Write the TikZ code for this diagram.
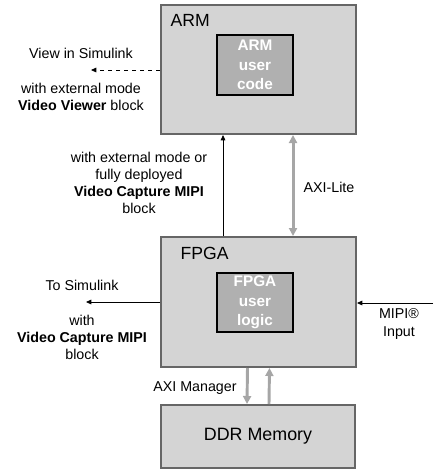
\documentclass[tikz,border=0pt]{standalone}
\usepackage{fontspec}
\setmainfont{Liberation Sans}
\usetikzlibrary{calc, positioning, arrows.meta}

\definecolor{boxfill}{HTML}{D4D4D4}
\definecolor{boxline}{HTML}{666666}
\definecolor{corefill}{HTML}{B0B0B0}
\definecolor{busgray}{HTML}{A6A6A6}

\tikzset{
  chip/.style={draw=boxline, line width=1.5pt, fill=boxfill, inner sep=0pt},
  core/.style={draw=black, line width=0.8pt, fill=corefill, inner sep=0pt,
    minimum width=57pt, minimum height=45pt, align=center,
    text=white, font=\fontsize{11.5}{14.6}\selectfont\bfseries},
  title/.style={font=\fontsize{13.2}{15}\selectfont, anchor=west},
  note/.style={align=center, font=\fontsize{10.7}{12.8}\selectfont},
  sig/.style={line width=0.6pt, -{Triangle[length=4pt, width=3.5pt]}},
  bus/.style={busgray, line width=2.2pt, -{Triangle[length=6pt, width=6pt]}},
}

\begin{document}
\begin{tikzpicture}[x=0.75pt, y=-0.75pt]
  \useasboundingbox (0,0) rectangle (443,469);

  % Blocks
  \node[chip, minimum width=146.25pt, minimum height=96.75pt] (arm) at (258.5,69.5) {};
  \node[chip, minimum width=146.25pt, minimum height=97.5pt] (fpga) at (258.5,302) {};
  \node[chip, minimum width=145.5pt, minimum height=47.25pt,
        font=\fontsize{13.4}{15}\selectfont] (ddr) at (258,436.5) {DDR Memory};

  \node[title] (armtitle) at (166,20) {ARM};
  \node[title] (fpgatitle) at (176,253) {FPGA};

  \node[core] (armcode) at (255,65) {ARM\\user\\code};
  \node[core, minimum height=44.25pt] (fpgalogic) at (255,302.5) {FPGA\\user\\logic};

  % Free ends
  \coordinate (viewend) at (91,70);
  \coordinate (simend) at (86,302);
  \coordinate (mipistart) at (433,303);

  % ARM to Simulink
  \draw[sig, dashed] (arm.west |- viewend) -- (viewend);
  \node[note] (viewlbl) at (81,53) {View in Simulink};
  \node[note] (viewnote) at (81,96.5) {with external mode\\\textbf{Video Viewer} block};

  % FPGA to ARM
  \draw[sig] ([xshift=-26.6pt]fpga.north) -- ([xshift=-26.6pt]arm.south);
  \node[note] (capnote) at (139,183) {with external mode or\\fully deployed\\\textbf{Video Capture MIPI}\\block};

  % AXI-Lite
  \draw[bus, {Triangle[length=6pt, width=6pt]}-{Triangle[length=6pt, width=6pt]}]
    ([xshift=25.9pt]arm.south) -- ([xshift=25.9pt]fpga.north);
  \node[note] (axilite) at (329,187) {AXI-Lite};

  % FPGA to Simulink
  \draw[sig] (fpga.west |- simend) -- (simend);
  \node[note] (simlbl) at (82,285) {To Simulink};
  \node[note] (simnote) at (82,337) {with\\\textbf{Video Capture MIPI}\\block};

  % MIPI input
  \draw[sig] (mipistart) -- (fpga.east |- mipistart);
  \node[note] (mipilbl) at (399,324) {MIPI®\\Input};

  % AXI Manager
  \draw[bus] ([xshift=-8.25pt]fpga.south) -- ([xshift=-8.25pt]ddr.north);
  \draw[bus] ([xshift=8.25pt]ddr.north) -- ([xshift=8.25pt]fpga.south);
  \node[note] (aximgr) at (195,388) {AXI Manager};
\end{tikzpicture}
\end{document}
